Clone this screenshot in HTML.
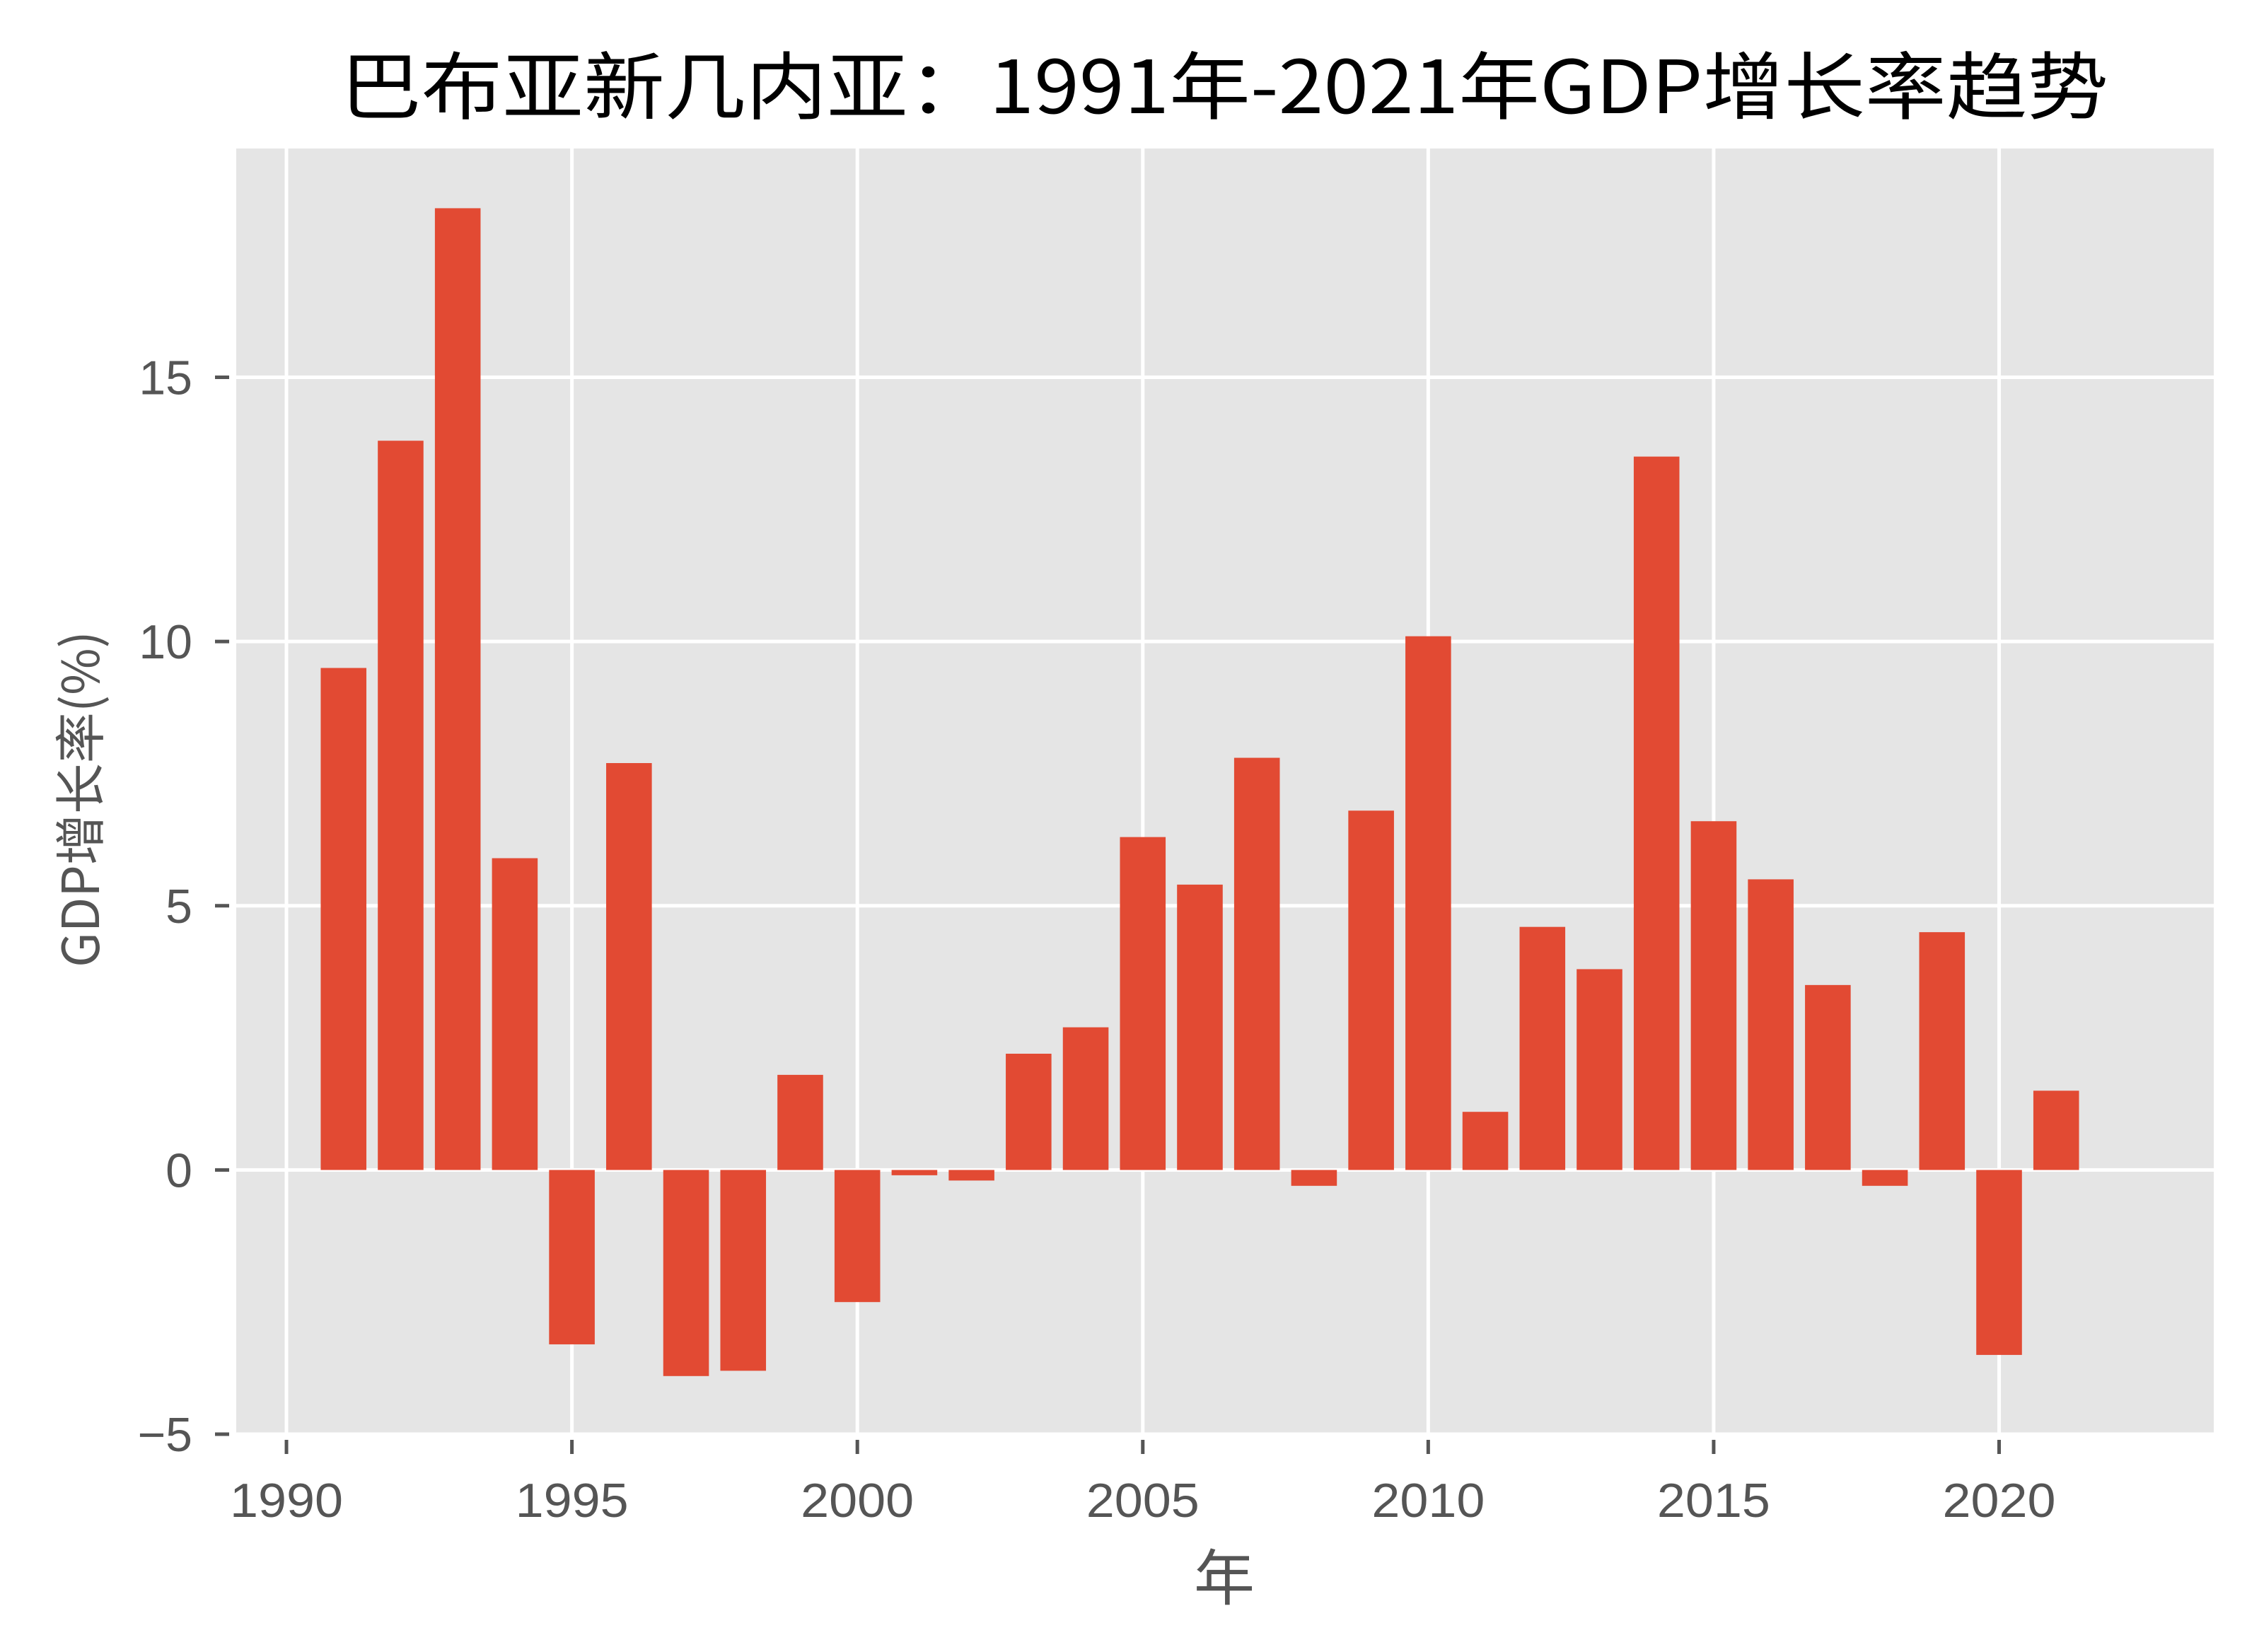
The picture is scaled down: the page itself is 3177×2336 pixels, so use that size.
<!DOCTYPE html>
<html><head><meta charset="utf-8"><style>
html,body{margin:0;padding:0;background:#fff;}
svg text{font-family:"Liberation Sans","WenQuanYi Zen Hei","Noto Sans CJK SC",sans-serif;}
</style></head><body>
<svg id="chart" width="3177" height="2331" xmlns="http://www.w3.org/2000/svg">
<rect x="0" y="0" width="3177" height="2331" fill="#fff"/>
<rect x="334" y="210" width="2796" height="1818" fill="#e5e5e5"/>
<g id="grid"></g>
<g id="bars"></g>
<g id="axes"></g>
<text x="1731" y="160" font-size="104" fill="#000" text-anchor="middle" textLength="2500" lengthAdjust="spacingAndGlyphs" style='font-family:"WenQuanYi Zen Hei","Noto Sans CJK SC",sans-serif'>巴布亚新几内亚：1991年-2021年GDP增长率趋势</text>
<text x="1731" y="2262" font-size="86" fill="#555" text-anchor="middle" style='font-family:"WenQuanYi Zen Hei","Noto Sans CJK SC",sans-serif'>年</text>
<text transform="translate(140,1130) rotate(-90)" font-size="72" fill="#555" text-anchor="middle" style='font-family:"WenQuanYi Zen Hei","Noto Sans CJK SC",sans-serif'>GDP增长率(%)</text>
</svg>
<script>
const years = [1991,1992,1993,1994,1995,1996,1997,1998,1999,2000,2001,2002,2003,2004,2005,2006,2007,2008,2009,2010,2011,2012,2013,2014,2015,2016,2017,2018,2019,2020,2021];
const growth = [9.5,13.8,18.2,5.9,-3.3,7.7,-3.9,-3.8,1.8,-2.5,-0.1,-0.2,2.2,2.7,6.3,5.4,7.8,-0.3,6.8,10.1,1.1,4.6,3.8,13.5,6.6,5.5,3.5,-0.3,4.5,-3.5,1.5];
const xTicks = [1990,1995,2000,2005,2010,2015,2020];
const yTicks = [-5,0,5,10,15];

const NS = "http://www.w3.org/2000/svg";
const L=334,R=3130,T=210,B=2028;
const xMin=1989.12,xMax=2023.76,yMin=-5,yMax=19.33;
function sx(v){return L+(v-xMin)/(xMax-xMin)*(R-L);}
function sy(v){return B-(v-yMin)/(yMax-yMin)*(B-T);}
function mk(tag,attrs,parent){const e=document.createElementNS(NS,tag);for(const k in attrs)e.setAttribute(k,attrs[k]);parent.appendChild(e);return e;}
const grid=document.getElementById('grid'),bars=document.getElementById('bars'),axes=document.getElementById('axes');
xTicks.forEach(t=>{
  const g=mk('line',{x1:sx(t),x2:sx(t),y1:T,y2:B,stroke:'#fff','stroke-width':5},grid);
  
  
  const tk=mk('line',{x1:sx(t),x2:sx(t),y1:B+8,y2:B+28,stroke:'#555','stroke-width':5},axes);
  
  
  const tx=mk('text',{x:sx(t),y:B+117,'font-size':68,fill:'#555','text-anchor':'middle',textLength:160,lengthAdjust:'spacingAndGlyphs'},axes);
  tx.textContent=t;
  
  
});
yTicks.forEach(t=>{
  const g=mk('line',{x1:L,x2:R,y1:sy(t),y2:sy(t),stroke:'#fff','stroke-width':5},grid);
  
  
  const tk=mk('line',{x1:L-30,x2:L-10,y1:sy(t),y2:sy(t),stroke:'#555','stroke-width':5},axes);
  
  
  const tx=mk('text',{x:L-62,y:sy(t)+24,'font-size':68,fill:'#555','text-anchor':'end'},axes);
  tx.textContent=(t<0?'\u2212':'')+Math.abs(t);
  
  
});
years.forEach((yr,i)=>{
  const v=growth[i];
  const x0=sx(yr-0.4),x1=sx(yr+0.4);
  const y0=sy(Math.max(v,0)),y1=sy(Math.min(v,0));
  const r=mk('rect',{x:x0,y:y0,width:x1-x0,height:y1-y0,fill:'#e24a33'},bars);
  
  
});
</script>
</body></html>
